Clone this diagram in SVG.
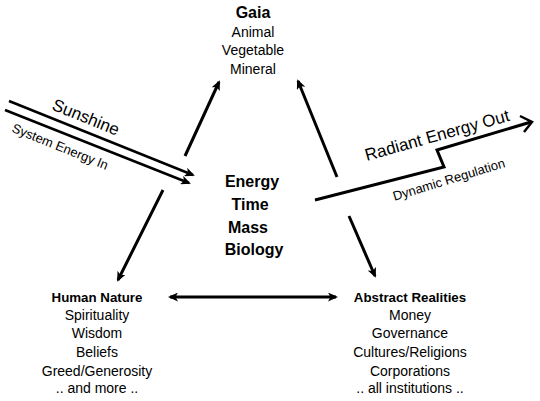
<svg xmlns="http://www.w3.org/2000/svg" width="540" height="401" viewBox="0 0 540 401">
<defs>
<style>
text{font-family:"Liberation Sans",Arial,sans-serif;fill:#000;text-anchor:middle}
.b{font-weight:bold}
.r{font-size:14px}
.h{font-size:13.3px;font-weight:bold}
.ln{stroke:#000;stroke-width:3;fill:none}
.sn{stroke:#000;stroke-width:2.5;fill:none}
</style>
<marker id="ah" markerWidth="10" markerHeight="9" refX="8" refY="4.5" orient="auto" markerUnits="userSpaceOnUse">
<path d="M0,0 L10,4.5 L0,9 L2.5,4.5 z" fill="#000"/>
</marker>
<marker id="as" markerWidth="10" markerHeight="9" refX="8" refY="4.5" orient="auto-start-reverse" markerUnits="userSpaceOnUse">
<path d="M0,0 L10,4.5 L0,9 L2.5,4.5 z" fill="#000"/>
</marker>
</defs>
<rect width="540" height="401" fill="#fff"/>
<g id="connectors">
<line class="ln" x1="185" y1="156" x2="219" y2="82" marker-end="url(#ah)"/>
<line class="ln" x1="337" y1="177" x2="298" y2="81" marker-end="url(#ah)"/>
<line class="ln" x1="349" y1="216" x2="375" y2="276" marker-end="url(#ah)"/>
<line class="ln" x1="163" y1="190" x2="118" y2="280" marker-end="url(#ah)"/>
<line class="ln" x1="170" y1="297" x2="336" y2="297" marker-start="url(#as)" marker-end="url(#as)"/>
<line class="sn" x1="9" y1="101" x2="193" y2="175" marker-end="url(#ah)"/>
<line class="sn" x1="5" y1="110" x2="189" y2="183" marker-end="url(#ah)"/>
<polyline class="ln" points="315,200 444,167 437,150 531,122"/>
<polyline class="sn" points="520,116 532,122 524,132"/>
</g>
<g id="labels">
<text transform="translate(86,117) rotate(22)" y="6" style="font-size:17px">Sunshine</text>
<text transform="translate(60,147) rotate(22)" y="4" style="font-size:13px">System Energy In</text>
<text transform="translate(437,135) rotate(-15.7)" y="6" style="font-size:17px">Radiant Energy Out</text>
<text transform="translate(449,180) rotate(-17)" y="4" style="font-size:13px">Dynamic Regulation</text>
</g>
<g id="gaia">
<text class="b" x="253" y="18" style="font-size:16px">Gaia</text>
<text class="r" x="253" y="37">Animal</text>
<text class="r" x="253" y="55">Vegetable</text>
<text class="r" x="253" y="74">Mineral</text>
</g>
<g id="center">
<text class="b" x="252" y="187" style="font-size:16px">Energy</text>
<text class="b" x="250" y="210" style="font-size:16px">Time</text>
<text class="b" x="248" y="233" style="font-size:16px">Mass</text>
<text class="b" x="254" y="255" style="font-size:16px">Biology</text>
</g>
<g id="human-nature">
<text class="h" x="97" y="302">Human Nature</text>
<text class="r" x="97" y="320">Spirituality</text>
<text class="r" x="97" y="338">Wisdom</text>
<text class="r" x="97" y="357">Beliefs</text>
<text class="r" x="97" y="376">Greed/Generosity</text>
<text class="r" x="97" y="393">.. and more ..</text>
</g>
<g id="abstract-realities">
<text class="h" x="410" y="302">Abstract Realities</text>
<text class="r" x="410" y="320">Money</text>
<text class="r" x="410" y="338">Governance</text>
<text class="r" x="410" y="357">Cultures/Religions</text>
<text class="r" x="410" y="376">Corporations</text>
<text class="r" x="410" y="393">.. all institutions ..</text>
</g>
</svg>
